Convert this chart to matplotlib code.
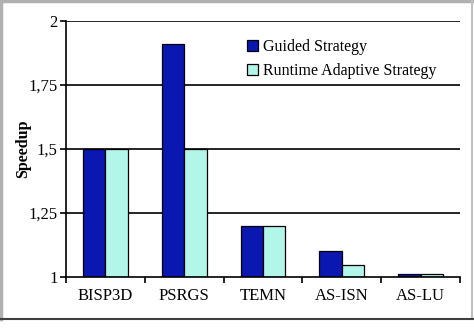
import numpy as np
import matplotlib
matplotlib.use("Agg")
import matplotlib.pyplot as plt
from matplotlib.lines import Line2D

categories = ["BISP3D", "PSRGS", "TEMN", "AS-ISN", "AS-LU"]
guided = [1.5, 1.91, 1.2, 1.1, 1.01]
adaptive = [1.5, 1.5, 1.2, 1.045, 1.01]
yticks = [1, 1.25, 1.5, 1.75, 2]
ytick_labels = ["1", "1,25", "1,5", "1,75", "2"]

plt.rcParams['font.family'] = ['Liberation Serif', 'DejaVu Serif']

fig = plt.figure(figsize=(4.74, 3.30), dpi=100)
ax = fig.add_axes([66 / 474, 1 - 277 / 330, (460 - 66) / 474, (277 - 21) / 330])

x = np.arange(len(categories))
w = 0.285
ax.bar(x - w / 2, np.array(guided) - 1, w, bottom=1, color="#0a17b0",
       edgecolor="black", linewidth=0.9, label="Guided Strategy", zorder=3)
ax.bar(x + w / 2, np.array(adaptive) - 1, w, bottom=1, color="#b2f6ea",
       edgecolor="black", linewidth=0.9, label="Runtime Adaptive Strategy", zorder=3)

ax.set_xlim(-0.5, len(categories) - 0.5)
ax.set_ylim(1, 2)
ax.set_yticks(yticks)
ax.set_yticklabels(ytick_labels, fontsize=12)
ax.set_xticks(x)
ax.set_xticklabels(categories, fontsize=12)
ax.tick_params(axis='x', length=0, pad=8)
ax.set_xticks(np.arange(len(categories) + 1) - 0.5, minor=True)
ax.tick_params(axis='x', which='minor', length=4, width=1.2, direction='out')
ax.tick_params(axis='y', length=4, width=1.2, direction='out', pad=2)

for yv in yticks[1:]:
    ax.axhline(yv, color="black", linewidth=1.2, zorder=1)

for s in ["top", "right"]:
    ax.spines[s].set_visible(False)
for s in ["left", "bottom"]:
    ax.spines[s].set_linewidth(1.2)
    ax.spines[s].set_zorder(4)

ax.set_ylabel("Speedup", fontsize=11.5, fontweight="bold", labelpad=-2)

ax.legend(loc="upper left", bbox_to_anchor=(0.442, 0.955), frameon=False,
          fontsize=11.5, handlelength=0.7, handleheight=0.7,
          handletextpad=0.3, labelspacing=0.5, borderaxespad=0)

# outer frame of the picture
fig.add_artist(Line2D([0.002, 0.002], [0.033, 1], color="#b0b0b0", linewidth=2.5, transform=fig.transFigure))
fig.add_artist(Line2D([0, 1], [0.997, 0.997], color="#b0b0b0", linewidth=2.5, transform=fig.transFigure))
fig.add_artist(Line2D([0.996, 0.996], [0.033, 1], color="#c0c0c0", linewidth=1.5, transform=fig.transFigure))
fig.add_artist(Line2D([0, 1], [0.033, 0.033], color="#404040", linewidth=1.5, transform=fig.transFigure))

fig.savefig("out.png", dpi=100)
